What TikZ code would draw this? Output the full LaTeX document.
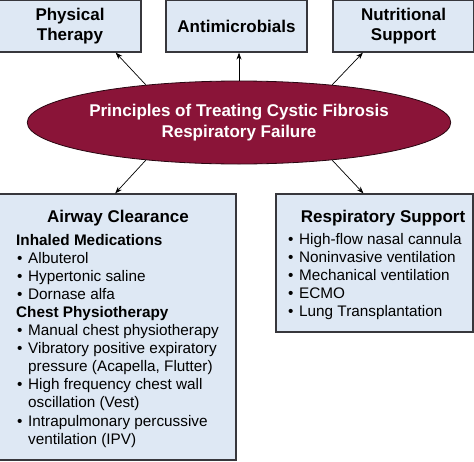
\documentclass[tikz,border=0pt]{standalone}
\usepackage{fontspec}
\setmainfont{Liberation Sans}
\usetikzlibrary{shapes.geometric,arrows.meta}
\definecolor{boxfill}{RGB}{222,232,244}
\definecolor{boxline}{RGB}{55,55,60}
\definecolor{cfred}{RGB}{138,20,56}
\tikzset{
	box/.style={rectangle, draw=boxline, fill=boxfill, line width=1.2pt, inner sep=0pt},
	head/.style={font=\fontsize{17}{19.5}\selectfont\bfseries, align=center},
	list/.style={font=\fontsize{15.3}{18.1}\selectfont, align=left, anchor=base west, inner sep=0pt},
	arr/.style={-{Stealth[length=7pt,width=5pt]}, line width=0.7pt}
}
\newcommand{\bul}{\hspace*{1pt}\makebox[11pt][l]{\textbullet}}
\newcommand{\ind}{\hspace*{12pt}}

\begin{document}
\begin{tikzpicture}[x=1pt,y=-1pt]
		\useasboundingbox (0,0) rectangle (474,461);
		\clip (0,0) rectangle (474,461);
		\fill[white] (0,0) rectangle (474,461);
		\node[box, head, minimum width=142pt, minimum height=51.5pt] (pt) at (70,26.25) {Physical\\Therapy};
		\node[box, head, minimum width=141pt, minimum height=51.5pt] (am) at (236.5,26.25) {Antimicrobials};
		\node[box, head, minimum width=141pt, minimum height=51.5pt] (ns) at (403.5,26.25) {Nutritional\\Support};
		\node[ellipse, draw=black!70!cfred, fill=cfred, line width=0.8pt, minimum width=358pt, minimum height=83pt, inner sep=0pt, text=white, head, font=\fontsize{17}{21}\selectfont\bfseries] (cf) at (239,122.5) {Principles of Treating Cystic Fibrosis\\Respiratory Failure};
		\node[box, minimum width=237pt, minimum height=266pt] (aw) at (117.5,327) {};
		\node[box, minimum width=197pt, minimum height=138pt] (rs) at (374.5,263) {};
		\node[head, anchor=base] (awh) at (118,222) {Airway Clearance};
		\node[head, anchor=base] (rsh) at (383,222.5) {Respiratory Support};
		\node[list] (awl) at (16,444.1) {{\bfseries Inhaled Medications}\\
			\bul Albuterol\\
			\bul Hypertonic saline\\
			\bul Dornase alfa\\
			{\bfseries Chest Physiotherapy}\\
			\bul Manual chest physiotherapy\\
			\bul Vibratory positive expiratory\\
			\ind pressure (Acapella, Flutter)\\
			\bul High frequency chest wall\\
			\ind oscillation (Vest)\\
			\bul Intrapulmonary percussive\\
			\ind ventilation (IPV)};
		\node[list] (rsl) at (287,316.9) {\bul High-flow nasal cannula\\
			\bul Noninvasive ventilation\\
			\bul Mechanical ventilation\\
			\bul ECMO\\
			\bul Lung Transplantation};
		\draw[arr] (cf.158) -- (pt.-30);
		\draw[arr] (cf.north) -- (cf.north |- am.south);
		\draw[arr] (cf.22) -- (ns.-147.6);
		\draw[arr] (cf.202) -- (aw.91);
		\draw[arr] (cf.338) -- (rs.99.5);
	\end{tikzpicture}
\end{document}
